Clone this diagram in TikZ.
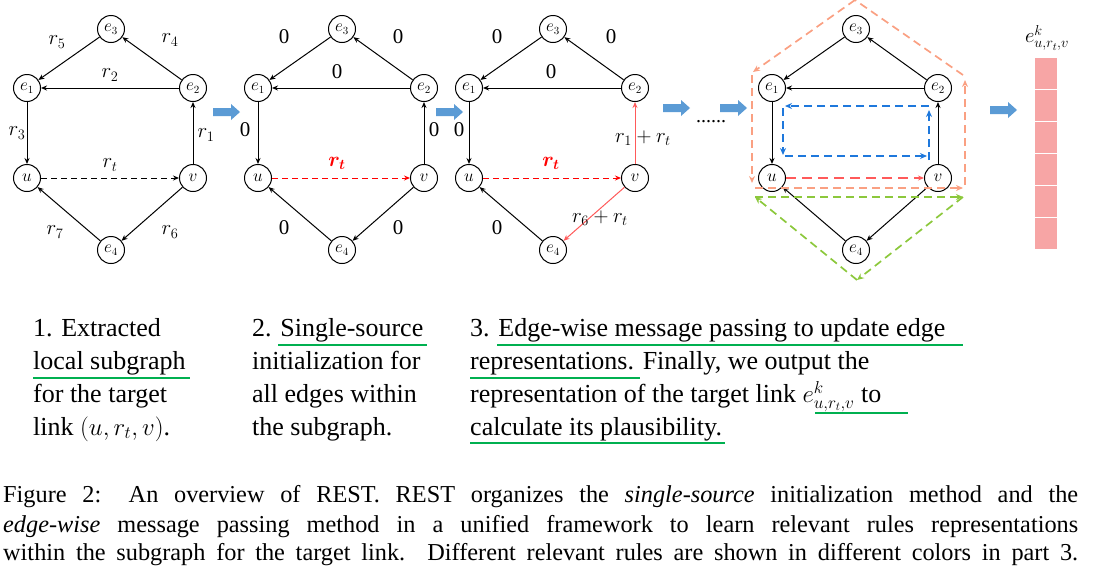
\documentclass[tikz,border=0pt]{standalone}
\usepackage{amsmath,bm}
\usepackage{fontspec}
\setmainfont{Liberation Serif}
\usetikzlibrary{arrows.meta}
\definecolor{ublue}{RGB}{91,155,213}
\definecolor{ugreen}{RGB}{0,176,80}
\definecolor{dred}{RGB}{255,0,0}
\definecolor{lred}{RGB}{255,90,90}
\definecolor{orng}{RGB}{250,160,130}
\definecolor{dblue}{RGB}{30,120,220}
\definecolor{grn}{RGB}{140,200,60}
\definecolor{pink}{RGB}{247,165,165}
\begin{document}
\begin{tikzpicture}[x=1pt,y=-1pt,
  nd/.style={circle,draw,line width=1pt,minimum size=27pt,inner sep=0pt,font=\fontsize{16}{16}\selectfont,fill=white},
  ed/.style={-{Stealth[length=6pt,width=5pt]},line width=1pt},
  dd/.style={dash pattern=on 6pt off 4pt},
  lb/.style={font=\fontsize{21}{21}\selectfont},
  tx/.style={font=\fontsize{26}{33}\selectfont,anchor=north west,align=left,inner sep=0pt},
  ul/.style={ugreen,line width=2pt},
  ds/.style={dash pattern=on 8pt off 5pt,line width=1.7pt,-{Stealth[length=7pt,width=6pt]}}]
\useasboundingbox (0,0) rectangle (1097,568);
% graphs
\foreach \g/\dx in {a/0,b/231,c/442,d/745}{
  \node[nd] (\g3) at (111+\dx,29) {$e_3$};
  \node[nd] (\g1) at (27+\dx,88) {$e_1$};
  \node[nd] (\g2) at (193+\dx,88) {$e_2$};
  \node[nd] (\g u) at (27+\dx,178) {$u$};
  \node[nd] (\g v) at (193+\dx,178) {$v$};
  \node[nd] (\g4) at (111+\dx,250) {$e_4$};
  \draw[ed] (\g3) -- (\g1);
  \draw[ed] (\g2) -- (\g3);
  \draw[ed] (\g2) -- (\g1);
  \draw[ed] (\g1) -- (\g u);
  \draw[ed] (\g4) -- (\g u);
}
\draw[ed] (av) -- (a2); \draw[ed] (av) -- (a4);
\draw[ed] (bv) -- (b2); \draw[ed] (bv) -- (b4);
\draw[ed,lred] (cv) -- (c2); \draw[ed,lred] (cv) -- (c4);
\draw[ed] (dv) -- (d2); \draw[ed] (dv) -- (d4);
\draw[ed,dd] (au) -- (av);
\draw[ed,dd,dred] (bu) -- (bv);
\draw[ed,dd,dred] (cu) -- (cv);
\draw[ed,lred,line width=1.7pt,dash pattern=on 10pt off 6pt] (du) -- (dv);
% labels graph 1
\node[lb] at (57,42) {$r_5$}; \node[lb] at (170,40) {$r_4$};
\node[lb] at (110,75) {$r_2$}; \node[lb] at (17,133) {$r_3$};
\node[lb] at (206,135) {$r_1$}; \node[lb] at (110,165) {$r_t$};
\node[lb] at (55,232) {$r_7$}; \node[lb] at (170,232) {$r_6$};
% graph 2
\node[lb] at (284,37) {0}; \node[lb] at (398,37) {0}; \node[lb] at (337,72) {0};
\node[lb] at (245,130) {0}; \node[lb] at (434,130) {0};
\node[lb] at (284,228) {0}; \node[lb] at (398,228) {0};
\node[lb,dred] at (337,163) {$\bm{r_t}$};
% graph 3
\node[lb] at (497,37) {0}; \node[lb] at (611,37) {0}; \node[lb] at (551,72) {0};
\node[lb] at (459,130) {0}; \node[lb] at (497,228) {0};
\node[lb] at (643,138) {$r_1+r_t$}; \node[lb] at (600,218) {$r_6+r_t$};
\node[lb,dred] at (551,163) {$\bm{r_t}$};
% overlays graph 4
\coordinate (o1) at (755,188); \coordinate (o2) at (963,188);
\coordinate (o3) at (965,80); \coordinate (o4) at (855,0);
\coordinate (o5) at (753,72); \coordinate (o6) at (752,183);
\draw[ds,orng] (o1) -- (o2);
\draw[ds,orng] (o2) ++(2,-3) -- (o3);
\draw[ds,orng,-] (o3) ++(-2,-5) -- (o4);
\draw[ds,orng] (o4) -- (o5);
\draw[ds,orng] (o5) ++(-1,3) -- (o6);
\coordinate (b1) at (929,160); \coordinate (b2) at (929,110);
\coordinate (b3) at (785,106); \coordinate (b4) at (783,155); \coordinate (b5) at (927,156);
\draw[ds,dblue] (b1) -- (b2);
\draw[ds,dblue] (929,106) -- (b3);
\draw[ds,dblue] (783,108) -- (b4);
\draw[ds,dblue] (785,156) -- (b5);
\coordinate (g1) at (755,197); \coordinate (g2) at (963,197); \coordinate (g3) at (857,280);
\draw[ds,grn] (g1) -- (g2);
\draw[ds,grn] (g2) -- (g3);
\draw[ds,grn] (g3) -- (g1);
% block arrows
\foreach \x/\y in {213/112,436/112,663/108,720/108,990/110}{
  \fill[ublue] (\x,\y-4) -- (\x+18,\y-4) -- (\x+18,\y-8) -- (\x+27,\y) -- (\x+18,\y+8) -- (\x+18,\y+4) -- (\x,\y+4) -- cycle;
}
\node[font=\fontsize{20}{20}\selectfont] at (711,122) {......};
% bar
\foreach \i in {0,...,5}{
  \fill[pink] (1035,58+32*\i) rectangle (1057,89+32*\i);
}
\node[font=\fontsize{22}{22}\selectfont] at (1047,38) {$e^k_{u,r_t,v}$};
% text
\node[tx] at (33,318) {1. Extracted\\local subgraph\\for the target\\link $(u,r_t,v)$.};
\draw[ul] (33,378) -- (190,378);
\node[tx] at (252,318) {2. Single-source\\initialization for\\all edges within\\the subgraph.};
\draw[ul] (278,345) -- (427,345);
\node[tx] at (470,318) {3. Edge-wise message passing to update edge\\representations. Finally, we output the\\representation of the target link $e^k_{u,r_t,v}$ to\\calculate its plausibility.};
\draw[ul] (497,345) -- (963,345);
\draw[ul] (470,378) -- (640,378);
\draw[ul] (815,413) -- (908,413);
\draw[ul] (470,443) -- (725,443);
% caption
\begin{scope}[every node/.style={anchor=west,inner sep=0pt,font=\fontsize{24.3}{24}\selectfont}]
\node at (3,497) {\makebox[1075pt][s]{Figure 2: An overview of REST. REST organizes the \textit{single-source} initialization method and the}};
\node at (3,527) {\makebox[1075pt][s]{\textit{edge-wise} message passing method in a unified framework to learn relevant rules representations}};
\node at (3,555) {\makebox[1075pt][s]{within the subgraph for the target link. Different relevant rules are shown in different colors in part 3.}};
\end{scope}
\end{tikzpicture}
\end{document}
